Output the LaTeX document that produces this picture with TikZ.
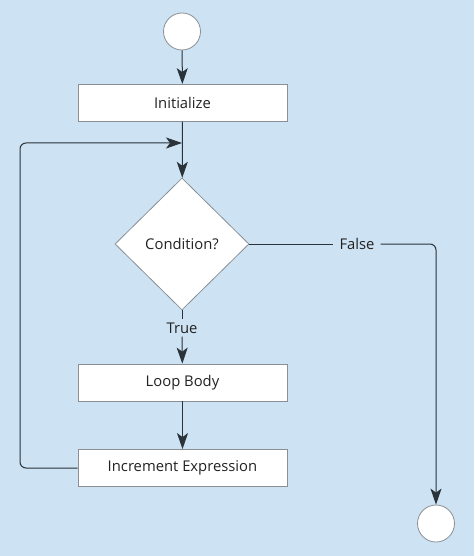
\documentclass[tikz,border=0pt]{standalone}
\usepackage{fontspec}
\setmainfont{Open Sans}
\usetikzlibrary{arrows.meta,shapes.geometric}
\definecolor{bg}{HTML}{CDE3F3}
\definecolor{ln}{HTML}{2A323A}
\definecolor{tx}{HTML}{222222}
\definecolor{bd}{HTML}{8A8F94}
\begin{document}
\begin{tikzpicture}[x=1pt,y=-1pt,
  every node/.style={font=\fontsize{14.8}{17}\selectfont, text=tx},
  procbox/.style={draw=bd, fill=white, line width=0.8pt, minimum width=209pt, minimum height=37pt, inner sep=0pt},
  term/.style={circle, draw=bd, fill=white, line width=0.8pt, minimum size=37pt, inner sep=0pt},
  cond/.style={diamond, draw=bd, fill=white, line width=0.8pt, minimum width=134pt, minimum height=132pt, inner sep=0pt},
  conn/.style={draw=ln, line width=1pt, -{Stealth[length=16pt,width=11pt,inset=4pt]}},
  plain/.style={draw=ln, line width=1pt},
  lbl/.style={fill=bg, inner xsep=6pt, inner ysep=3pt}]
\fill[bg] (0,0) rectangle (474,556);
\useasboundingbox (0,0) rectangle (474,556);
\node[term] (start) at (182,31.5) {};
\node[procbox] (init) at (182.5,103) {Initialize};
\node[cond] (cond) at (182,244) {Condition?};
\node[procbox] (body) at (182.5,382.5) {Loop Body};
\node[procbox] (inc) at (182.5,468) {Increment Expression};
\node[term] (end) at (436,523.5) {};
\coordinate (merge) at (182,143);
\coordinate (lc) at (20,143);
\coordinate (fc) at (436,244);
\node[lbl] (true) at (182,328) {True};
\node[lbl] (false) at (357,244) {False};
\draw[conn] (start) -- (init);
\draw[conn] (init) -- (cond);
\draw[plain] (cond) -- (true);
\draw[conn] (true) -- (body);
\draw[conn] (body) -- (inc);
\draw[conn, rounded corners=6pt] (inc.west) -| (lc) -- (merge);
\draw[plain] (cond.east) -- (false);
\draw[conn, rounded corners=6pt] (false) -- (fc) -- (end);
\end{tikzpicture}
\end{document}
